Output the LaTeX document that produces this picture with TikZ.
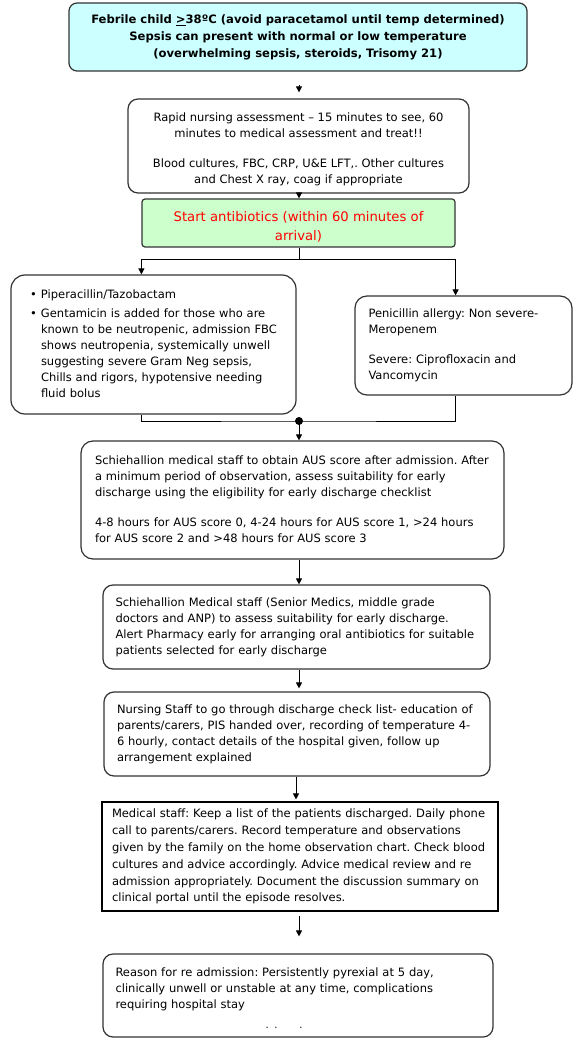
\documentclass[tikz,border=0pt]{standalone}
\usepackage{fontspec}
\setmainfont{DejaVu Sans}
\usetikzlibrary{arrows.meta,calc}
\definecolor{cyanfill}{HTML}{CCFFFF}
\definecolor{greenfill}{HTML}{CCFFCC}
\definecolor{boxline}{HTML}{333333}
\newcommand\leftlines[1]{\begin{tabular}{@{}l@{}}#1\end{tabular}}
\newcommand\midlines[1]{\begin{tabular}{@{}c@{}}#1\end{tabular}}
\frenchspacing
\begin{document}
\frenchspacing
\begin{tikzpicture}[x=1pt,y=-1pt,
  box/.style={draw=boxline, line width=1.2pt, rounded corners=#1, align=left,
    font={\fontsize{11.5}{16}\selectfont}, inner ysep=0pt},
  cbox/.style={box=#1, align=center},
  arr/.style={-{Triangle[length=6pt,width=6pt]}, line width=1pt, draw=black},
  conn/.style={line width=1pt, draw=black}]
\path[use as bounding box, fill=white] (0,0) rectangle (575,1048);
\coordinate (axis) at (299,0);

\node[cbox=8pt, fill=cyanfill, minimum width=458pt, minimum height=68pt,
  inner xsep=4pt, font={\bfseries\fontsize{11.6}{17}\selectfont}]
  (b1) at (298,37)
  {\midlines{Febrile child \underline{>}38ºC (avoid paracetamol until temp determined)\\
   Sepsis can present with normal or low temperature\\
   (overwhelming sepsis, steroids, Trisomy 21)}};

\node[cbox=10pt, minimum width=341pt, minimum height=94pt, inner xsep=4pt]
  (b2) at (298.5,146)
  {\midlines{\\[-10pt]Rapid nursing assessment – 15 minutes to see, 60\\
   minutes to medical assessment and treat!!\\[14pt]
   Blood cultures, FBC, CRP, U\&E LFT,. Other cultures\\
   and Chest X ray, coag if appropriate}};

\node[cbox=3pt, fill=greenfill, minimum width=313pt, minimum height=48pt,
  inner xsep=4pt, text=red, font={\fontsize{13.2}{19}\selectfont}]
  (b3) at (298.5,223)
  {\midlines{\\[-11pt]Start antibiotics (within 60 minutes of\\ arrival)}};

\node[box=14pt, minimum width=285pt, minimum height=139pt, text width=247pt, inner xsep=19pt]
  (b4) at (153.5,344.5)
  {\leftlines{\makebox[11pt][l]{•}Piperacillin/Tazobactam\\[3pt]
   \makebox[11pt][l]{•}Gentamicin is added for those who are\\
   \hspace*{11pt}known to be neutropenic, admission FBC\\
   \hspace*{11pt}shows neutropenia, systemically unwell\\
   \hspace*{11pt}suggesting severe Gram Neg sepsis,\\
   \hspace*{11pt}Chills and rigors, hypotensive needing\\
   \hspace*{11pt}fluid bolus}};

\node[box=12pt, minimum width=217pt, minimum height=99pt, text width=190pt, inner xsep=13.5pt]
  (b5) at (463.5,345.5)
  {\leftlines{Penicillin allergy: Non severe-\\
   Meropenem\\[14pt]
   Severe: Ciprofloxacin and\\
   Vancomycin}};

\node[box=12pt, minimum width=423pt, minimum height=118pt, text width=395pt, inner xsep=14pt]
  (b6) at (292.5,500)
  {\leftlines{Schiehallion medical staff to obtain AUS score after admission. After\\
   a minimum period of observation, assess suitability for early\\
   discharge using the eligibility for early discharge checklist\\[14pt]
   4-8 hours for AUS score 0, 4-24 hours for AUS score 1, >24 hours\\
   for AUS score 2 and >48 hours for AUS score 3}};

\node[box=10pt, minimum width=387pt, minimum height=84pt, text width=362pt, inner xsep=12.5pt]
  (b7) at (296.5,627)
  {\leftlines{Schiehallion Medical staff (Senior Medics, middle grade\\
   doctors and ANP) to assess suitability for early discharge.\\
   Alert Pharmacy early for arranging oral antibiotics for suitable\\
   patients selected for early discharge}};

\node[box=10pt, minimum width=386pt, minimum height=84pt, text width=360pt, inner xsep=13pt]
  (b8) at (297,734)
  {\leftlines{Nursing Staff to go through discharge check list- education of\\
   parents/carers, PIS handed over, recording of temperature 4-\\
   6 hourly, contact details of the hospital given, follow up\\
   arrangement explained}};

\node[box=0pt, draw=black, minimum width=396pt, minimum height=109pt, text width=376pt,
  inner xsep=10pt, font={\fontsize{11.5}{16.8}\selectfont}]
  (b9) at (300,856.5)
  {\leftlines{Medical staff: Keep a list of the patients discharged. Daily phone\\
   call to parents/carers. Record temperature and observations\\
   given by the family on the home observation chart. Check blood\\
   cultures and advice accordingly. Advice medical review and re\\
   admission appropriately. Document the discussion summary on\\
   clinical portal until the episode resolves.}};

\node[box=10pt, minimum width=390pt, minimum height=83pt, text width=365pt, inner xsep=12.5pt]
  (b10) at (298,995.5)
  {\leftlines{Reason for re admission: Persistently pyrexial at 5 day,\\
   clinically unwell or unstable at any time, complications\\
   requiring hospital stay\\[-4pt] \mbox{}}};
\node[font={\fontsize{10}{12}\selectfont}, inner sep=0pt, anchor=base west] (dots) at (265.5,1028)
  {.\hspace{5.6pt}.\hspace{21.6pt}.};

% connectors
\draw[arr, shorten <=13pt, shorten >=6pt] (axis |- b1.south) -- (axis |- b2.north);
\draw[arr] (axis |- b2.south) -- (axis |- b3.north);
\draw[conn] (axis |- b3.south) -- ++(0,12) coordinate (split);
\draw[arr] (split) -| (b3.south west |- b4.north);
\draw[arr] (split) -| (b3.south east |- b5.north);
\coordinate (merge) at (299,421);
\draw[conn] (b3.south west |- b4.south) |- (merge) -| (b3.south east |- b5.south);
\fill (merge) circle (4pt);
\draw[arr] (merge) -- (merge |- b6.north);
\draw[arr] (axis |- b6.south) -- (axis |- b7.north);
\draw[arr, shorten >=3pt] (axis |- b7.south) -- (axis |- b8.north);
\draw[arr, shorten >=2pt] (b8.south -| 296,0) -- (b9.north -| 296,0);
\draw[arr, shorten <=4pt, shorten >=17pt] (axis |- b9.south) -- (axis |- b10.north);
\end{tikzpicture}
\end{document}
